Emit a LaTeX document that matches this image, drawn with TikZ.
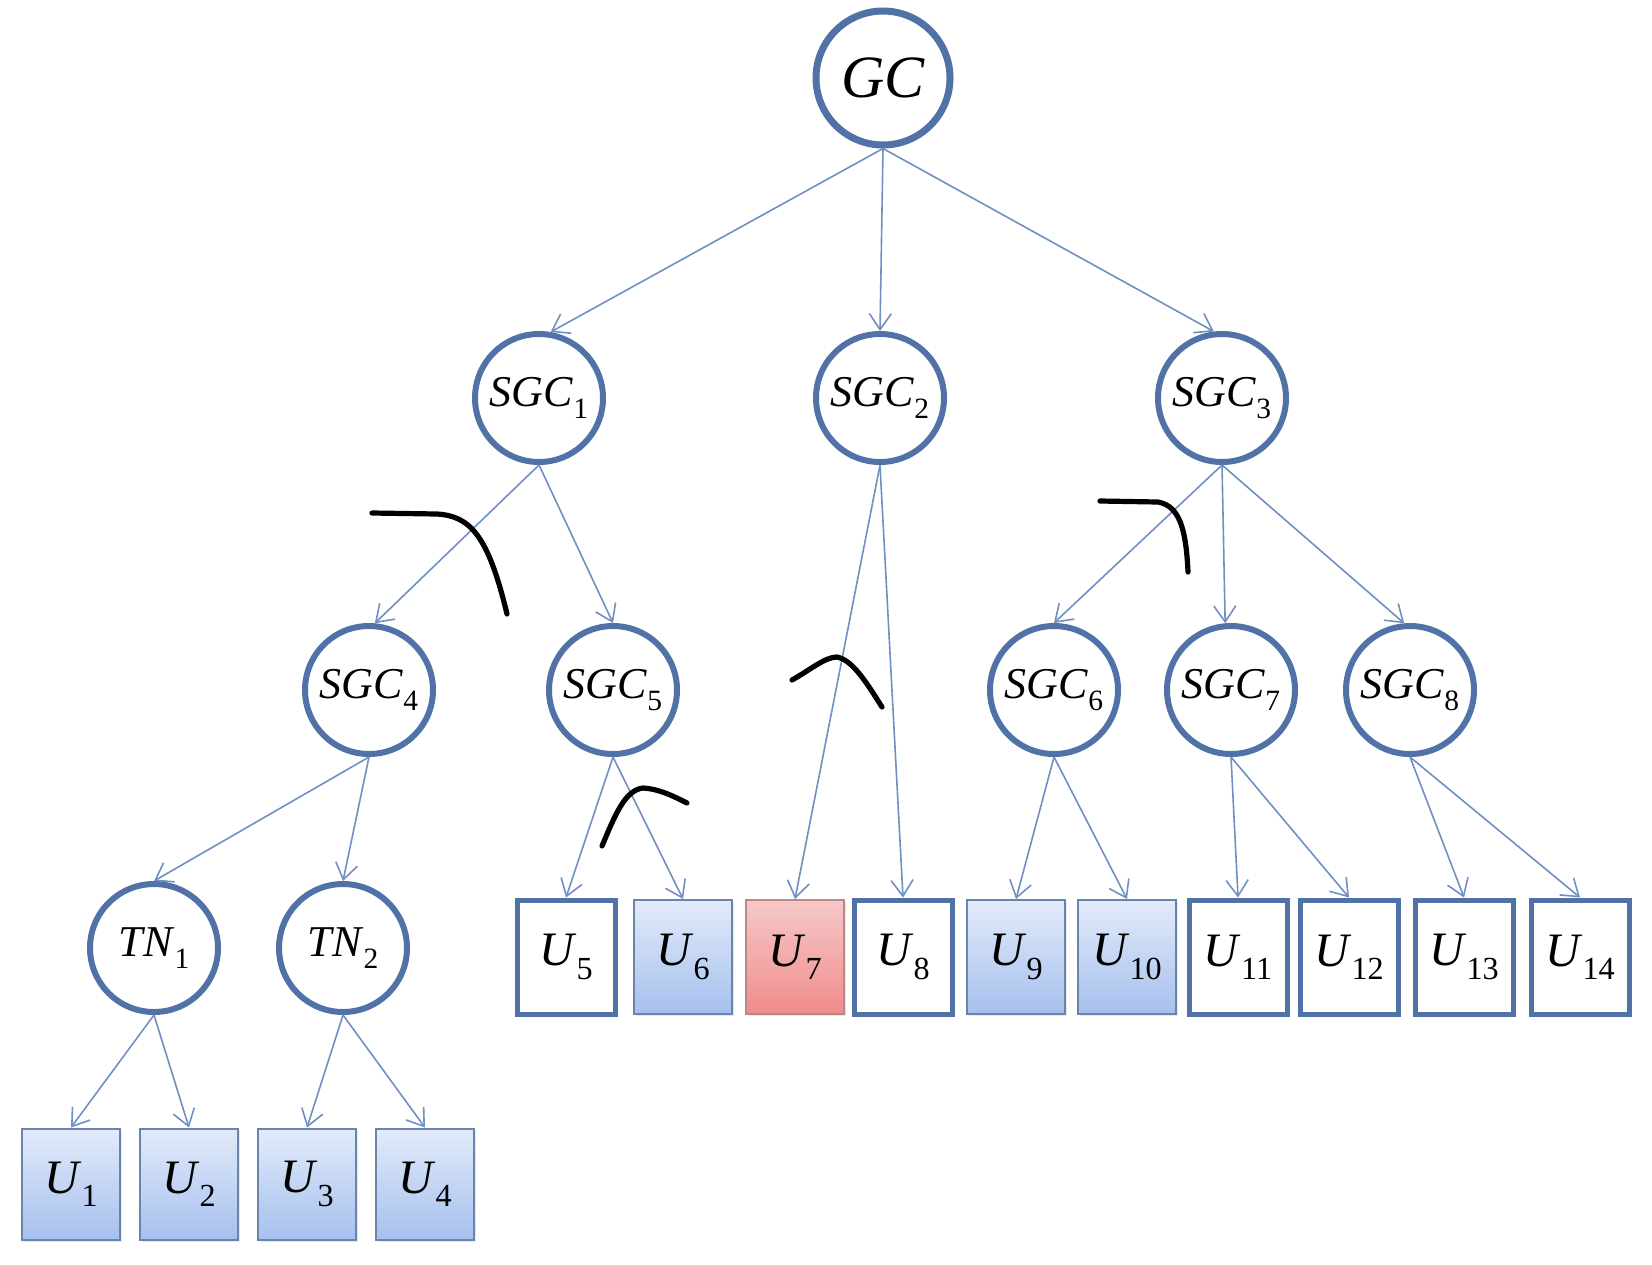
\documentclass[tikz,border=0pt]{standalone}
\usepackage{fontspec}
\setmainfont{Liberation Serif}
\usetikzlibrary{arrows.meta,shadows}
\definecolor{ring}{HTML}{5072A6}
\definecolor{edgec}{HTML}{7090C2}
\definecolor{bb}{HTML}{6B84AA}
\definecolor{btop}{HTML}{E2EBFA}
\definecolor{bbot}{HTML}{A6C0EE}
\definecolor{rb}{HTML}{B98888}
\definecolor{rtop}{HTML}{F6C8C8}
\definecolor{rbot}{HTML}{F08C8C}
\newcommand\lbl[2]{\textit{#1}\raisebox{-0.28em}{\scalebox{0.67}{#2}}}
\tikzset{
  bigc/.style={circle, draw=ring, line width=3.5pt, fill=white, minimum size=67pt, inner sep=0pt, font=\fontsize{30}{30}\selectfont},
  smc/.style={circle, draw=ring, line width=3pt, fill=white, minimum size=64pt, inner sep=0pt, font=\fontsize{22}{22}\selectfont},
  ubox/.style={rectangle, inner sep=0pt, minimum width=49pt, minimum height=57pt, font=\fontsize{24}{24}\selectfont,
     drop shadow={opacity=0.18, shadow xshift=0.8pt, shadow yshift=-1.2pt}},
  thickbox/.style={ubox, draw=ring, line width=2.5pt, fill=white},
  bluebox/.style={ubox, draw=bb, line width=1pt, top color=btop, bottom color=bbot},
  redbox/.style={ubox, draw=rb, line width=1pt, top color=rtop, bottom color=rbot},
  lowbox/.style={bluebox, minimum height=55.5pt},
  conn/.style={draw=edgec, line width=0.8pt, -{Straight Barb[length=8pt,width=11pt]}},
  scribble/.style={draw=black, line width=2.6pt, line cap=round, line join=round}
}
\begin{document}
\begin{tikzpicture}[x=0.5pt,y=-0.5pt]
\useasboundingbox (0,0) rectangle (1652,1264);
\fill[white] (0,0) rectangle (1652,1264);
% circles
\node[bigc] (GC) at (883,78) {\textit{GC}};
\node[smc] (S1) at (539,398) {\lbl{SGC}{1}};
\node[smc] (S2) at (880,398) {\lbl{SGC}{2}};
\node[smc] (S3) at (1222,398) {\lbl{SGC}{3}};
\node[smc] (S4) at (369,690) {\lbl{SGC}{4}};
\node[smc] (S5) at (613,690) {\lbl{SGC}{5}};
\node[smc] (S6) at (1054,690) {\lbl{SGC}{6}};
\node[smc] (S7) at (1231,690) {\lbl{SGC}{7}};
\node[smc] (S8) at (1410,690) {\lbl{SGC}{8}};
\node[smc] (T1) at (154,948) {\lbl{TN}{1}};
\node[smc] (T2) at (343,948) {\lbl{TN}{2}};
% boxes
\node[lowbox] (U1) at (71,1184) {\lbl{U}{1}};
\node[lowbox] (U2) at (189,1184) {\lbl{U}{2}};
\node[lowbox] (U3) at (307,1184) {\lbl{U}{3}};
\node[lowbox] (U4) at (425,1184) {\lbl{U}{4}};
\node[thickbox] (U5) at (566,957) {\lbl{U}{5}};
\node[bluebox] (U6) at (683,957) {\lbl{U}{6}};
\node[redbox] (U7) at (795,957) {\lbl{U}{7}};
\node[thickbox] (U8) at (903,957) {\lbl{U}{8}};
\node[bluebox] (U9) at (1016,957) {\lbl{U}{9}};
\node[bluebox] (U10) at (1127,957) {\lbl{U}{10}};
\node[thickbox] (U11) at (1238,957) {\lbl{U}{11}};
\node[thickbox] (U12) at (1349,957) {\lbl{U}{12}};
\node[thickbox] (U13) at (1464,957) {\lbl{U}{13}};
\node[thickbox] (U14) at (1580,957) {\lbl{U}{14}};
% connectors
\draw[conn] (GC.south) -- (S1.80);
\draw[conn] (GC.south) -- (S2.north);
\draw[conn] (GC.south) -- (S3.97);
\draw[conn] (S1.south) -- (S4.85);
\draw[conn] (S1.south) -- (S5.north);
\draw[conn] (S2.south) -- (U7.north);
\draw[conn] (S2.south) -- (U8.north);
\draw[conn] (S3.south) -- (S6.north);
\draw[conn] (S3.south) -- (S7.95);
\draw[conn] (S3.south) -- (S8.95);
\draw[conn] (S4.south) -- (T1.north);
\draw[conn] (S4.south) -- (T2.north);
\draw[conn] (S5.south) -- (U5.north);
\draw[conn] (S5.south) -- (U6.north);
\draw[conn] (S6.south) -- (U9.north);
\draw[conn] (S6.south) -- (U10.north);
\draw[conn] (S7.south) -- (U11.north);
\draw[conn] (S7.south) -- (U12.north);
\draw[conn] (S8.south) -- (U13.north);
\draw[conn] (S8.south) -- (U14.north);
\draw[conn] (T1.south) -- (U1.north);
\draw[conn] (T1.south) -- (U2.north);
\draw[conn] (T2.south) -- (U3.north);
\draw[conn] (T2.south) -- (U4.north);
% hand-drawn cut marks
\draw[scribble] (372,513) -- (437,514) .. controls (470,516) and (488,535) .. (507,614);
\draw[scribble] (792,680) .. controls (810,670) and (825,657) .. (837,657) .. controls (852,660) and (865,680) .. (882,707);
\draw[scribble] (602,846) .. controls (615,815) and (625,790) .. (643,788) .. controls (660,789) and (675,797) .. (687,803);
\draw[scribble] (1100,501) -- (1158,502) .. controls (1180,506) and (1186,530) .. (1188,572);
\end{tikzpicture}
\end{document}
